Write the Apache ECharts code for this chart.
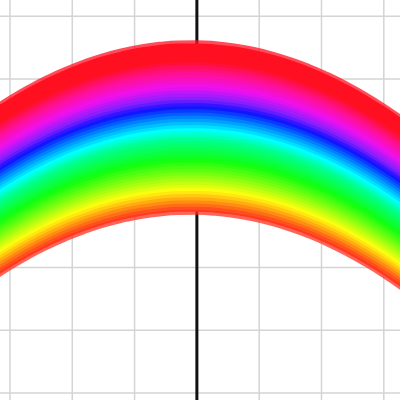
<!DOCTYPE html>
<html><head><meta charset="utf-8">
<script src="https://cdn.jsdelivr.net/npm/echarts@6/dist/echarts.min.js"></script>
<style>html,body{margin:0;padding:0;background:#fff}#c{width:400px;height:400px}</style>
</head><body><div id="c"></div>
<script>
// rainbow arcs: y = vertex - curv*(x - shift)^2
const curv = 0.105, shift = -0.1;
const sampleX = [-3.3,-3.0,-2.7,-2.4,-2.1,-1.8,-1.5,-1.2,-0.9,-0.6,-0.3,0,0.3,0.6,0.9,1.2,1.5,1.8,2.1,2.4,2.7,3.0,3.3];
// color stops: [vertex y (units), color]
const colorStops = [
 [5.58,'#ff1020'],[5.28,'#ff1020'],[5.08,'#ff1090'],[4.86,'#f010f0'],
 [4.66,'#8020ff'],[4.54,'#1010ff'],[4.38,'#0080ff'],[4.18,'#00ffff'],
 [4.02,'#00ff90'],[3.70,'#10ff10'],[3.46,'#80ff10'],[3.22,'#ffff10'],
 [3.06,'#ffa010'],[2.88,'#ff3020']
];
const gridX = [-3,-2,-1,1,2,3];
const gridY = [0,1,2,3,4,5,6];

function hex(c){return [1,3,5].map(i=>parseInt(c.substr(i,2),16));}
function colorAt(v){
  for(let i=0;i<colorStops.length-1;i++){
    const [a,ca]=colorStops[i],[b,cb]=colorStops[i+1];
    if(v<=a&&v>=b){const t=(a-v)/(a-b);const A=hex(ca),B=hex(cb);
      return 'rgb('+A.map((x,k)=>Math.round(x+(B[k]-x)*t)).join(',')+')';}
  }
  return colorStops[v>colorStops[0][0]?0:colorStops.length-1][1];
}
const series=[];
const gl={type:'line',symbol:'none',silent:true,z:1,lineStyle:{color:'#d4d4d4',width:1.5}};
gridX.forEach(x=>series.push(Object.assign({},gl,{data:[[x,-1],[x,7]]})));
gridY.forEach(y=>series.push(Object.assign({},gl,{data:[[-4,y],[4,y]]})));
series.push({type:'line',symbol:'none',silent:true,z:1,lineStyle:{color:'#111',width:3},data:[[0,-1],[0,7]]});
const vTop=colorStops[0][0], vBot=colorStops[colorStops.length-1][0];
for(let v=vTop; v>=vBot-1e-6; v-=0.05){
  series.push({type:'line',symbol:'none',silent:true,z:2,smooth:true,
    lineStyle:{width:5,color:colorAt(v),opacity:(v>vTop-0.04||v<vBot+0.04)?0.75:1},
    data:sampleX.map(x=>[x, v-curv*(x-shift)*(x-shift)])});
}
const chart=echarts.init(document.getElementById('c'));
chart.setOption({animation:false,grid:{left:0,right:0,top:0,bottom:0},
  xAxis:{type:'value',min:-3.16,max:3.26,show:false},
  yAxis:{type:'value',min:-0.11,max:6.26,show:false},
  series});
</script></body></html>
